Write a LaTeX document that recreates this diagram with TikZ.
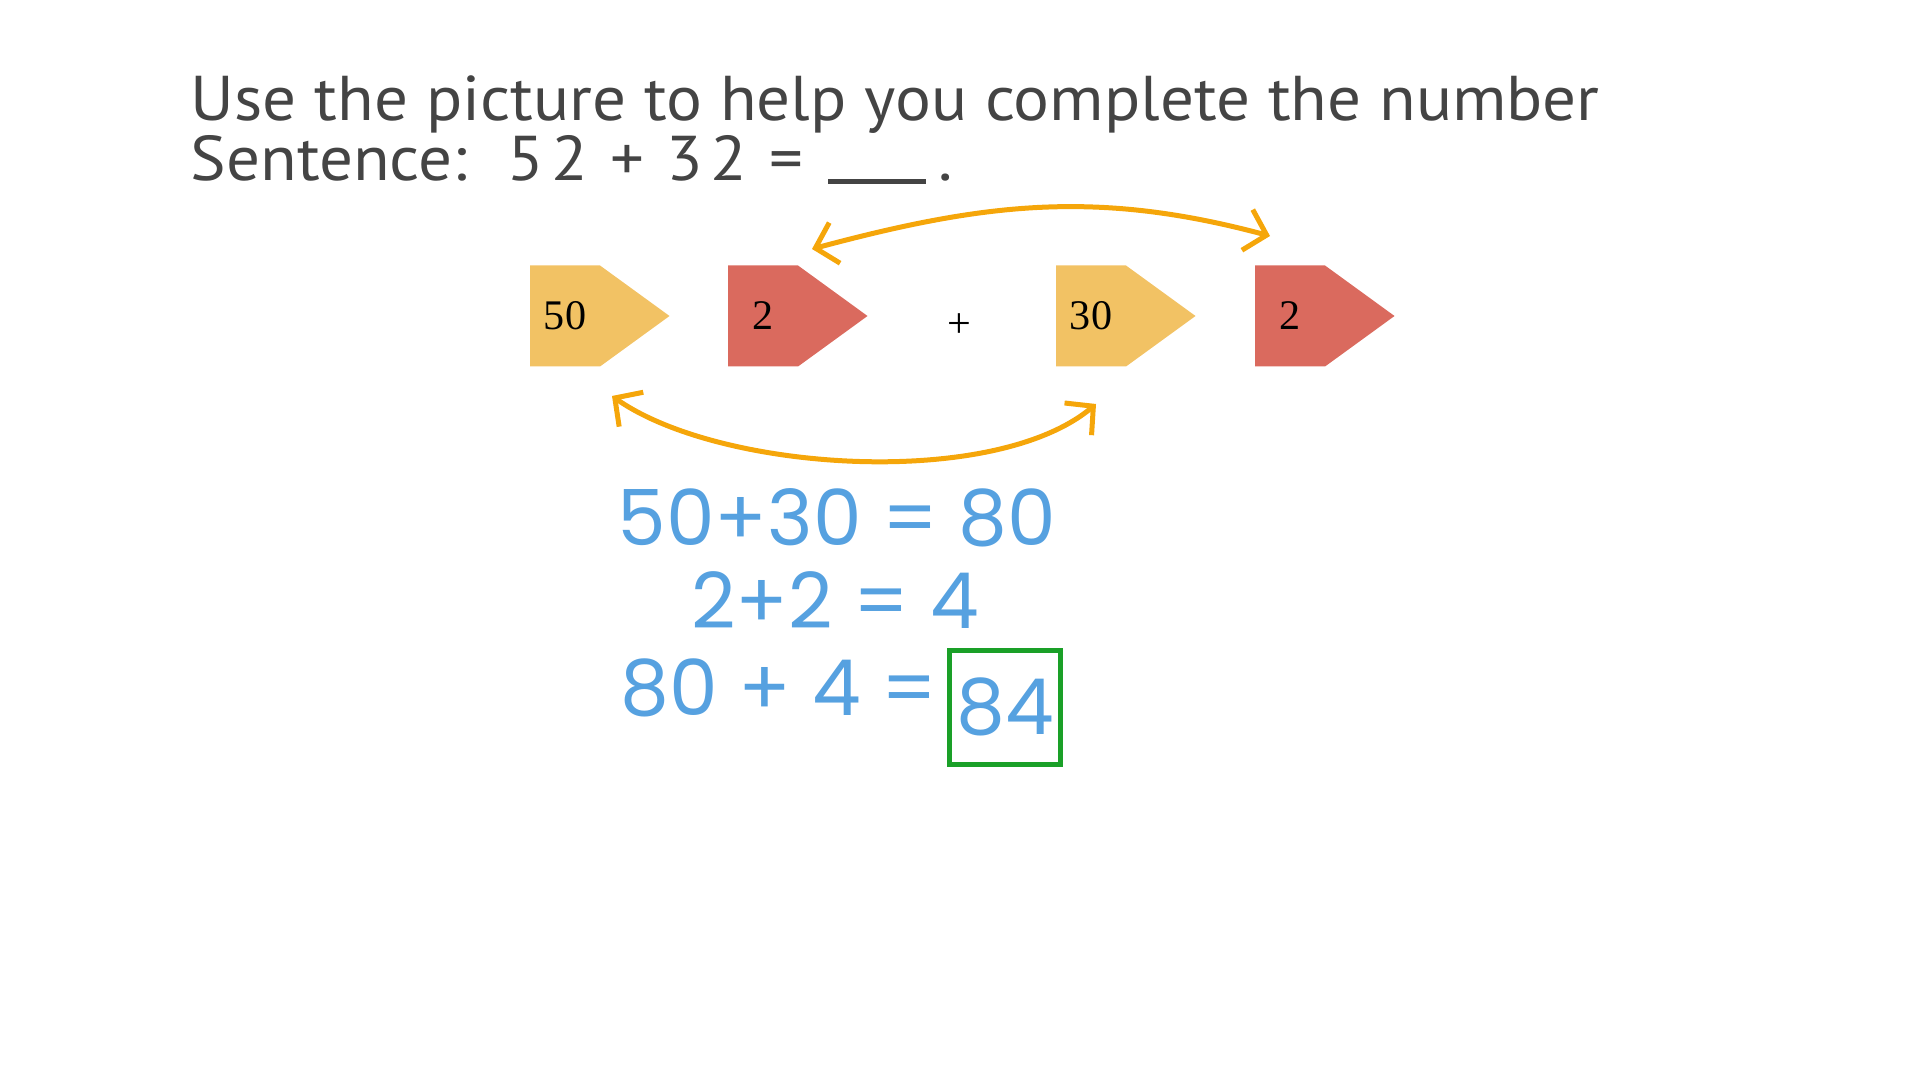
\documentclass[tikz,border=0pt]{standalone}
\usepackage{fontspec}
\usetikzlibrary{arrows.meta,shapes.symbols,calc}
\setmainfont{Liberation Serif}
\newfontfamily\handfont{Poppins}
\newfontfamily\titlefont[FakeStretch=1.06]{PT Sans}
\definecolor{boxyellow}{RGB}{242,194,100}
\definecolor{boxred}{RGB}{218,106,94}
\definecolor{swap}{RGB}{245,166,10}
\definecolor{work}{RGB}{86,161,224}
\definecolor{answer}{RGB}{26,160,40}
\definecolor{ink}{RGB}{68,68,68}
\tikzset{tag/.style={signal,signal to=east,signal pointer angle=72,inner xsep=0pt,text width=0.7cm,align=center,minimum height=1.01cm,font=\fontsize{12}{14}\selectfont}}
\tikzset{swaparrow/.style={draw=swap,line width=0.05cm,line cap=round,<->,>={Straight Barb[length=0.2cm,width=0.42cm]}}}
\tikzset{sum/.style={text=work,font=\handfont\fontsize{22}{26}\selectfont}}
\tikzset{prompt/.style={text=ink,font=\titlefont\fontsize{18}{22}\selectfont,anchor=base west,inner sep=0pt}}

\begin{document}
\begin{tikzpicture}
\useasboundingbox (0,0) rectangle (19.2,-10.8);
\node (title1) at (1.9,-1.21) [prompt] {Use the picture to help you complete the number};
\node (title2) at (1.9,-1.81) [prompt] {Sentence:\hspace{0.4cm}5\kern0.08cm2\hspace{0.22cm}+\hspace{0.22cm}3\kern0.08cm2\hspace{0.22cm}=\hspace{0.25cm}\rule[-0.1ex]{0.98cm}{1.5pt}\hspace{0.12cm}.};
\node (b1) at (5.65,-3.16) [tag,fill=boxyellow] {50};
\node (b2) at (7.63,-3.16) [tag,fill=boxred] {2};
\node (plus) at (9.59,-3.26) [font=\fontsize{12}{14}\selectfont] {+};
\node (b3) at (10.91,-3.16) [tag,fill=boxyellow] {30};
\node (b4) at (12.90,-3.16) [tag,fill=boxred] {2};
\coordinate (top1) at ($(b2)+(0.49,0.67)$);
\coordinate (top2) at ($(b4)+(-0.20,0.80)$);
\coordinate (bot1) at ($(b1)+(0.47,-0.80)$);
\coordinate (bot2) at ($(b3)+(0.05,-0.88)$);
\draw[swaparrow] (top1) to[out=15,in=165] (top2);
\draw[swaparrow] (bot1) to[out=-35,in=-140,looseness=0.7] (bot2);
\node (eq1) at (8.37,-5.18) [sum] {50+30 = 80};
\node (eq2) at (8.35,-6.00) [sum] {2+2 = 4};
\node (eq3) at (7.79,-6.88) [sum] {80 + 4 =};
\node (ans) at (10.05,-7.07) [sum,draw=answer,line width=0.05cm,minimum width=1.11cm,minimum height=1.14cm,inner sep=0pt] {84};
\end{tikzpicture}
\end{document}
